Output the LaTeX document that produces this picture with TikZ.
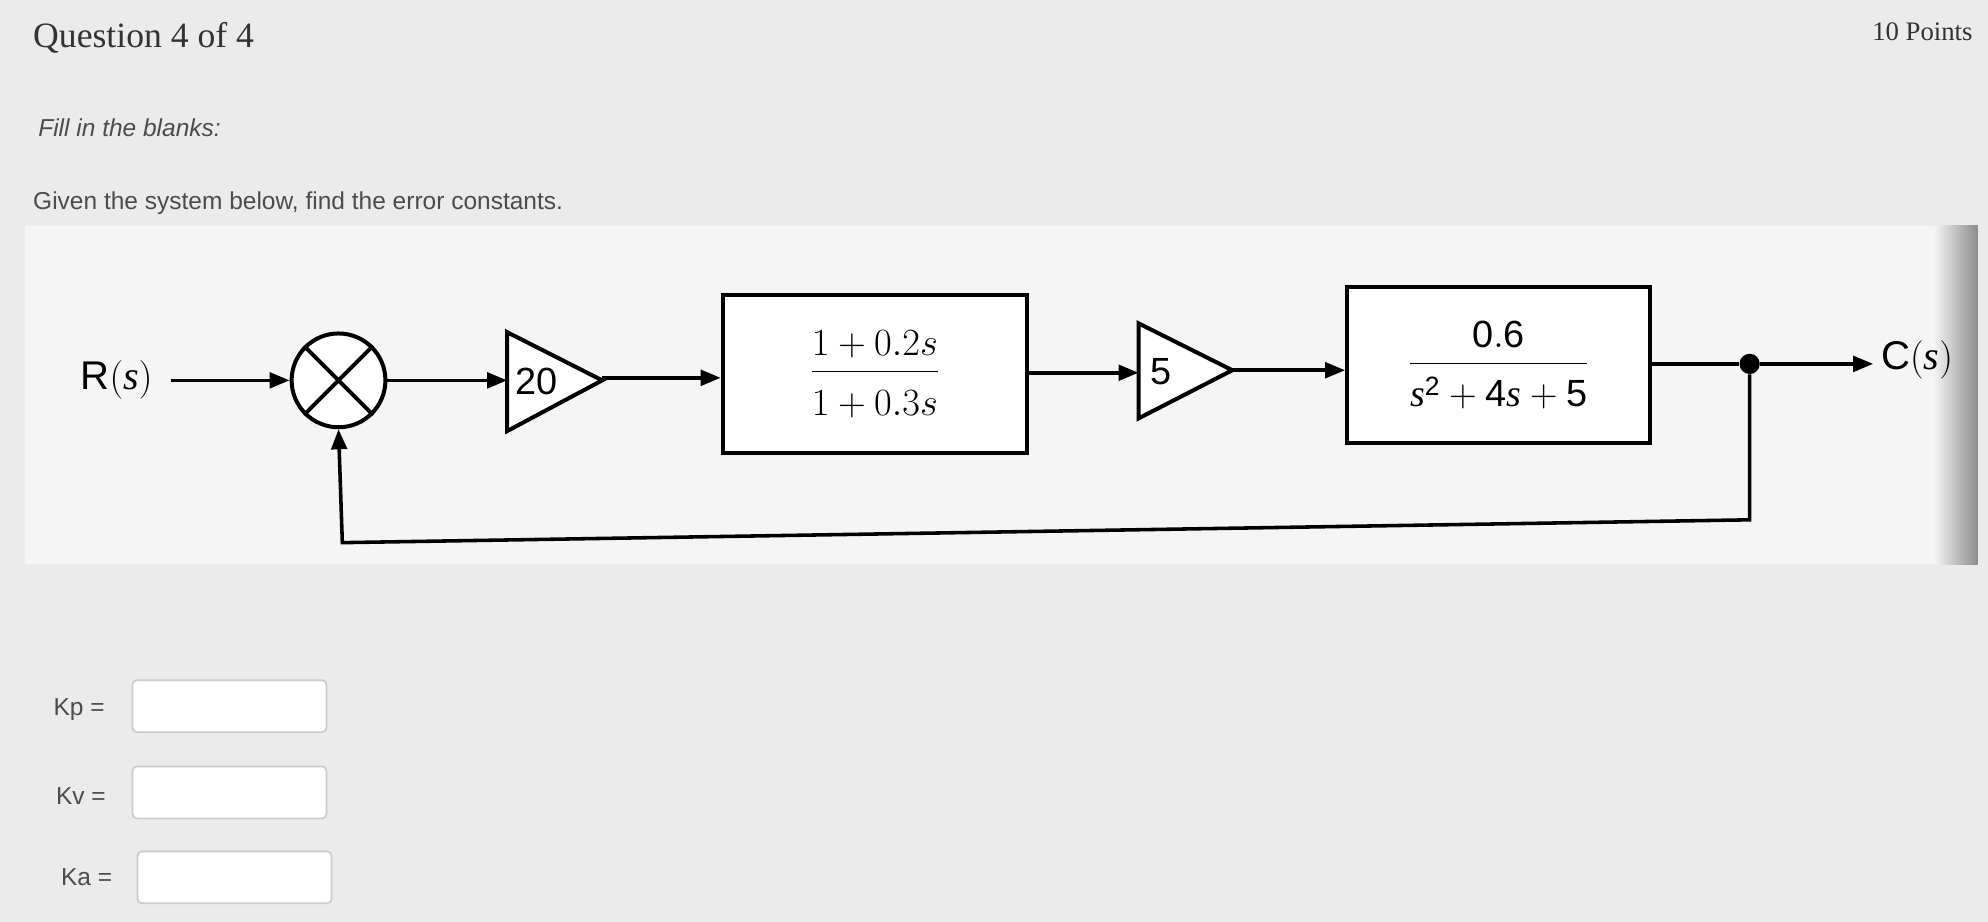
\documentclass[tikz,border=0pt]{standalone}
\usepackage{fontspec}
\setmainfont{Liberation Serif}
\setsansfont{Liberation Sans}
\usetikzlibrary{arrows.meta}
\begin{document}
\begin{tikzpicture}[x=0.02cm,y=-0.02cm,
  line/.style={line width=1.6pt},
  arr/.style={line, -{Triangle[length=9pt,width=7pt]}},
  blk/.style={draw,line width=1.8pt,fill=white,inner sep=0pt},
  ans/.style={draw=gray!40,line width=0.8pt,fill=white,rounded corners=2pt,minimum width=3.06cm,minimum height=0.82cm},
  lab/.style={font=\sffamily\fontsize{11}{13}\selectfont,text=black!70}]
\useasboundingbox (0,0) rectangle (1568,727);
\fill[black!8] (0,0) rectangle (1568,727);
\fill[white!96!black] (20,178) rectangle (1560,445);
\shade[left color=white!96!black,right color=black!45] (1525,178) rectangle (1560,445);
\node[anchor=west,font=\fontsize{16}{18}\selectfont,text=black!80] (q) at (20,30) {Question 4 of 4};
\node[anchor=east,font=\fontsize{12}{14}\selectfont,text=black!80] (p) at (1562,25) {10 Points};
\node[anchor=west,lab,font=\sffamily\itshape\fontsize{11}{13}\selectfont] (f) at (24,101) {Fill in the blanks:};
\node[anchor=west,lab] (g) at (20,160) {Given the system below, find the error constants.};
% diagram
\node[font=\sffamily\fontsize{18}{20}\selectfont] (R) at (92,300) {$\mathsf{R(}\mathit{s}\mathsf{)}$};
\node[draw,circle,line width=1.8pt,minimum size=1.48cm,inner sep=0pt,fill=white] (sum) at (267,300) {};
\draw[line width=1.8pt] (sum.45) -- (sum.225) (sum.135) -- (sum.315);
\draw[arr] (R.east)++(8,0) coordinate (r0) -- (sum.west);
\draw[blk] (400,262) -- (400,340) -- (475,300) -- cycle;
\node[font=\sffamily\fontsize{17}{19}\selectfont,anchor=west] (g20) at (400,301) {20};
\coordinate (g20in) at (400,300); \coordinate (g20out) at (475,298);
\draw[arr] (sum.east) -- (g20in);
\node[blk,minimum width=4.8cm,minimum height=2.48cm] (b1) at (690,295) {\fontsize{18}{20}\selectfont$\displaystyle\frac{1+0.2s}{\rule{0pt}{18pt}1+0.3s}$};
\draw[arr] (g20out) -- (b1.west |- g20out);
\draw[blk] (898,255) -- (898,330) -- (972,292) -- cycle;
\node[font=\sffamily\fontsize{17}{19}\selectfont,anchor=west] (g5) at (901,293) {5};
\coordinate (g5in) at (898,294); \coordinate (g5out) at (972,292);
\draw[arr] (b1.east |- g5in) -- (g5in);
\node[blk,minimum width=4.78cm,minimum height=2.46cm] (b2) at (1182,288) {\sffamily\fontsize{17}{19}\selectfont$\displaystyle\frac{\mathsf{0.6}}{\rule{0pt}{18pt}\mathit{s}^{\mathsf{2}}+\mathsf{4}\mathit{s}+\mathsf{5}}$};
\draw[arr] (g5out) -- (b2.west |- g5out);
\node[circle,fill=black,inner sep=0pt,minimum size=0.32cm] (dot) at (1380,287) {};
\node[font=\sffamily\fontsize{18}{20}\selectfont] (C) at (1512,284) {$\mathsf{C(}\mathit{s}\mathsf{)}$};
\draw[line] (b2.east |- dot) -- (dot);
\draw[arr] (dot) -- (C.west |- dot);
\coordinate (fb1) at (1380,410);
\coordinate (fb2) at (270,428);
\draw[arr] (dot) -- (fb1) -- (fb2) -- (sum.south);
% answers
\node[lab,anchor=west] (kp) at (36,560) {Kp =};
\node[ans] (akp) at (181,557) {};
\node[lab,anchor=west] (kv) at (38,628) {Kv =};
\node[ans] (akv) at (181,625) {};
\node[lab,anchor=west] (ka) at (42,692) {Ka =};
\node[ans] (aka) at (185,692) {};
\end{tikzpicture}
\end{document}
